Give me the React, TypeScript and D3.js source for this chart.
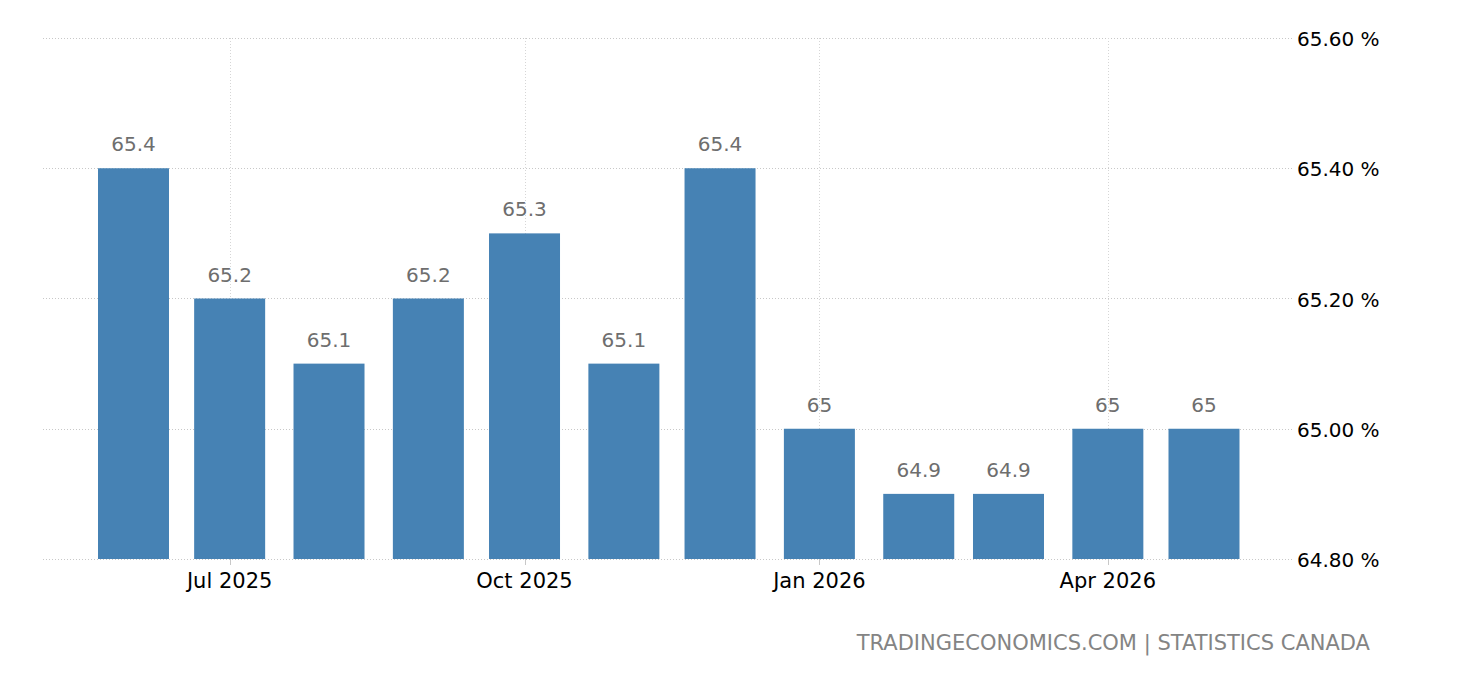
import React from "react";
import * as d3 from "d3";

const months = [
  "2025-06-01", "2025-07-01", "2025-08-01", "2025-09-01", "2025-10-01", "2025-11-01",
  "2025-12-01", "2026-01-01", "2026-02-01", "2026-03-01", "2026-04-01", "2026-05-01",
];
const rates = [65.4, 65.2, 65.1, 65.2, 65.3, 65.1, 65.4, 65.0, 64.9, 64.9, 65.0, 65.0];
const yTicks = [64.8, 65.0, 65.2, 65.4, 65.6];
const xTicks = ["2025-07-01", "2025-10-01", "2026-01-01", "2026-04-01"];

const width = 1460;
const height = 680;
const plotLeft = 43;
const plotRight = 1292;
const plotTop = 38;
const plotBottom = 559;
const barWidth = 71;
const font = "Tahoma, 'DejaVu Sans', Verdana, sans-serif";

const parse = d3.utcParse("%Y-%m-%d");
const fmtMonth = d3.utcFormat("%b %Y");

const App: React.FC = () => {
  const x = d3
    .scaleUtc()
    .domain([parse("2025-06-01")!, parse("2026-05-01")!])
    .range([133.5, 1204]);
  const y = d3.scaleLinear().domain([64.8, 65.6]).range([plotBottom, plotTop]);

  return (
    <svg width={width} height={height} style={{ display: "block", position: "absolute", left: 0, top: 0 }}>
      <rect width={width} height={height} fill="#fff" />
      {/* horizontal grid */}
      {yTicks.map((t) => (
        <line
          key={"h" + t}
          x1={plotLeft}
          x2={plotRight}
          y1={Math.round(y(t)) + 0.5}
          y2={Math.round(y(t)) + 0.5}
          stroke="#c8c8c8"
          strokeDasharray="1,2"
        />
      ))}
      {/* vertical grid */}
      {xTicks.map((t) => {
        const px = Math.round(x(parse(t)!)) + 0.5;
        return (
          <g key={"v" + t}>
            <line x1={px} x2={px} y1={plotTop} y2={plotBottom} stroke="#d6d6d6" strokeDasharray="1,2" />
            <line x1={px} x2={px} y1={plotBottom} y2={plotBottom + 6} stroke="#c8c8c8" />
          </g>
        );
      })}
      {/* bars */}
      {months.map((m, i) => {
        const cx = x(parse(m)!);
        const top = y(rates[i]);
        return (
          <g key={m}>
            <rect x={cx - barWidth / 2} y={top} width={barWidth} height={plotBottom - top} fill="#4682b4" />
            <text
              x={cx}
              y={top - 17}
              textAnchor="middle"
              fontFamily={font}
              fontSize={20}
              fill="#6e6e6e"
            >
              {d3.format("")(rates[i])}
            </text>
          </g>
        );
      })}
      {/* x axis labels */}
      {xTicks.map((t) => (
        <text
          key={"xl" + t}
          x={x(parse(t)!)}
          y={588}
          textAnchor="middle"
          fontFamily={font}
          fontSize={21}
          fill="#000"
        >
          {fmtMonth(parse(t)!)}
        </text>
      ))}
      {/* y axis labels */}
      {yTicks.map((t) => (
        <text key={"yl" + t} x={1297} y={y(t) + 8} fontFamily={font} fontSize={20} fill="#000">
          {d3.format(".2f")(t) + " %"}
        </text>
      ))}
      <text x={1370} y={650} textAnchor="end" fontFamily={font} fontSize={21} fill="#848484">
        TRADINGECONOMICS.COM | STATISTICS CANADA
      </text>
    </svg>
  );
};

export default App;
